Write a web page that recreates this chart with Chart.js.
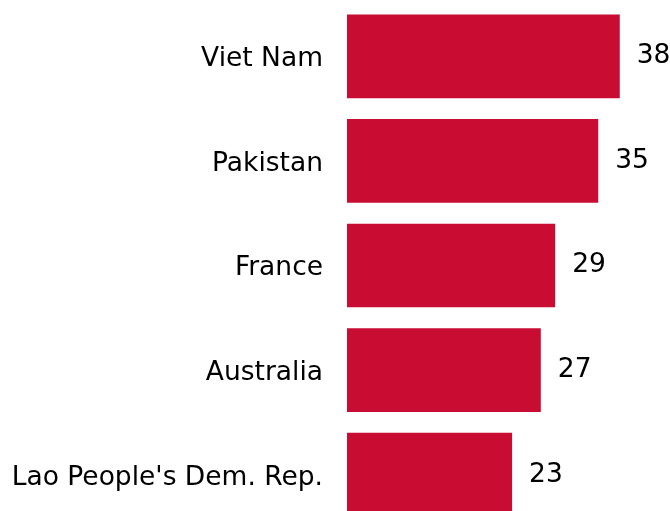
<!DOCTYPE html>
<html>
<head>
<meta charset="utf-8">
<script src="https://cdn.jsdelivr.net/npm/chart.js@4/dist/chart.umd.min.js"></script>
<style>
html,body{margin:0;padding:0;background:#fff;overflow:hidden;width:670px;height:511px;}
#wrap{position:absolute;left:0;top:0;width:670px;height:531px;}
</style>
</head>
<body>
<div id="wrap"><canvas id="c" width="670" height="531"></canvas></div>
<script>
const categories = ["Viet Nam", "Pakistan", "France", "Australia", "Lao People's Dem. Rep."];
const values = [38, 35, 29, 27, 23];
const valueLabels = ["38", "35", "29", "27", "23"];

const valueLabelPlugin = {
  id: 'valueLabels',
  afterDatasetsDraw(chart) {
    const ctx = chart.ctx;
    const meta = chart.getDatasetMeta(0);
    ctx.save();
    ctx.font = '26.5px "DejaVu Sans"';
    ctx.fillStyle = '#000';
    ctx.textAlign = 'left';
    ctx.textBaseline = 'middle';
    meta.data.forEach((bar, i) => {
      ctx.fillText(valueLabels[i], bar.x + 17, bar.y);
    });
    ctx.restore();
  }
};

new Chart(document.getElementById('c'), {
  type: 'bar',
  data: {
    labels: categories,
    datasets: [{
      data: values,
      backgroundColor: '#C80C32',
      borderWidth: 0,
      barPercentage: 0.8,
      categoryPercentage: 1.0
    }]
  },
  options: {
    indexAxis: 'y',
    responsive: false,
    animation: false,
    layout: { padding: { top: 4, bottom: 4, left: 0, right: 0 } },
    plugins: { legend: { display: false }, tooltip: { enabled: false } },
    scales: {
      x: {
        min: 0, max: 45,
        display: false
      },
      y: {
        grid: { display: false, drawTicks: false },
        border: { display: false },
        ticks: {
          color: '#000',
          padding: 24,
          labelOffset: 3,
          font: { family: 'DejaVu Sans', size: 26.5 }
        },
        afterFit(scale) {
          scale.width = 347;
          scale.paddingTop = 0;
          scale.paddingBottom = 0;
        }
      }
    }
  },
  plugins: [valueLabelPlugin]
});
</script>
</body>
</html>
